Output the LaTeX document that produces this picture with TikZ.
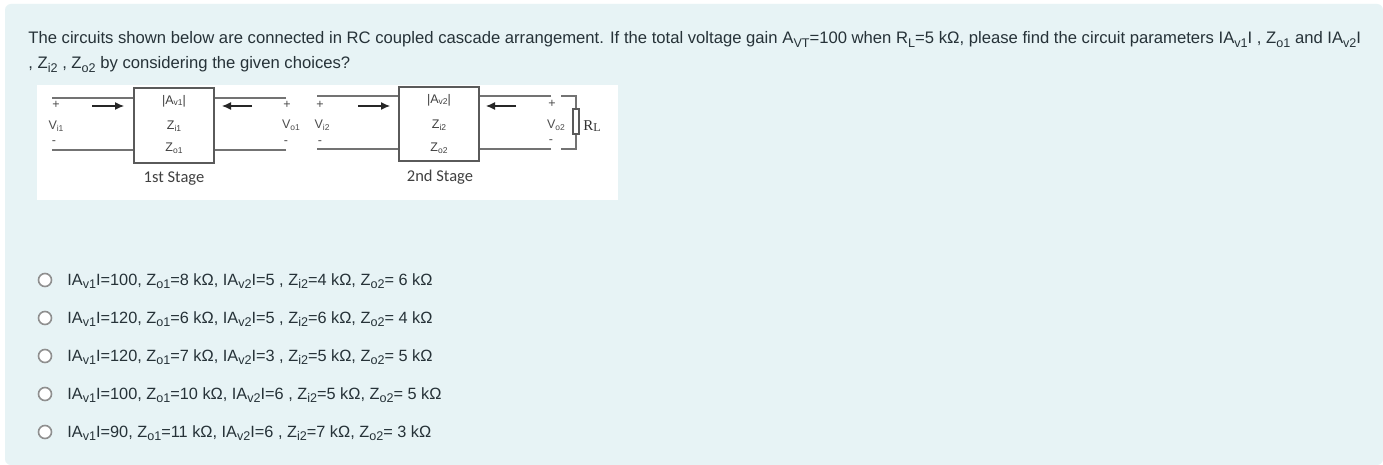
\documentclass[tikz,border=0pt]{standalone}
\usepackage{fontspec}
\usetikzlibrary{arrows.meta}
\setmainfont{Liberation Sans}
\newfontfamily\stagefont{Carlito}
\newfontfamily\loadfont{Liberation Serif}
\definecolor{panelcol}{HTML}{E7F3F5}
\definecolor{inkcol}{HTML}{263238}
\definecolor{wirecol}{HTML}{5A5A5A}
\definecolor{radiocol}{HTML}{8F8F8F}
\newcommand{\lowtxt}[1]{\raisebox{-3.2pt}{\fontsize{12.6}{14}\selectfont #1}}
\newcommand{\portsub}[1]{\raisebox{-1.5pt}{\fontsize{8.5}{10}\selectfont #1}}
\begin{document}
\begin{tikzpicture}[x=1pt, y=-1pt, thick,
    question/.style={anchor=base west, inner sep=0pt, text=inkcol, font=\fontsize{16.65}{18}\selectfont},
    choice/.style={anchor=base west, inner sep=0pt, text=inkcol, font=\fontsize{16.3}{18}\selectfont},
    radiobox/.style={draw=radiocol, fill=white, circle, line width=1.6pt, minimum size=13pt, inner sep=0pt},
    stagebox/.style={draw=wirecol, line width=1.2pt, minimum width=80pt, inner sep=0pt},
    boxlabel/.style={inner sep=0pt, text=black!75, font=\fontsize{12.5}{14}\selectfont},
    portlabel/.style={inner sep=0pt, text=black!70, font=\fontsize{12.5}{14}\selectfont},
    stagelabel/.style={inner sep=0pt, text=black!75, font=\stagefont\fontsize{16.5}{18}\selectfont},
    wire/.style={draw=wirecol!85, line width=1.1pt},
    flow/.style={draw=black!85, line width=1.2pt, -{Latex[length=9pt,width=8pt]}}]
  \useasboundingbox (0,0) rectangle (1383,465);
  \fill[white] (0,0) rectangle (1383,465);
  \fill[panelcol, rounded corners=6pt] (5,4) rectangle (1383,465);
  \fill[white] (37,85) rectangle (618,200);

  % question text
  \node[question] (line1) at (28,44) {The circuits shown below are connected in RC coupled cascade arrangement. If the total voltage gain A\lowtxt{VT}=100 when R\lowtxt{L}=5 k\char"03A9, please find the circuit parameters IA\lowtxt{v1}I , Z\lowtxt{o1} and IA\lowtxt{v2}I};
  \node[question] (line2) at (28,69) {, Z\lowtxt{i2} , Z\lowtxt{o2} by considering the given choices?};

  % the two stages
  \node[stagebox, minimum height=75pt] (stageone) at (174,125.5) {};
  \node[stagebox, minimum height=74pt] (stagetwo) at (439,124) {};

  \node[boxlabel] (avone) at (174,101) {|A\portsub{v1}|};
  \node[boxlabel] (zione) at (174,126) {Z\portsub{i1}};
  \node[boxlabel] (zoone) at (174,148) {Z\portsub{o1}};
  \node[stagelabel] (nameone) at (174,179) {1st Stage};

  \node[boxlabel] (avtwo) at (439,100) {|A\portsub{v2}|};
  \node[boxlabel] (zitwo) at (439,125) {Z\portsub{i2}};
  \node[boxlabel] (zotwo) at (439,148) {Z\portsub{o2}};
  \node[stagelabel] (nametwo) at (440,177) {2nd Stage};

  % free ends of the wires
  \coordinate (inonetop) at (52,98);
  \coordinate (inonebot) at (52,150);
  \coordinate (outonetop) at (286,98);
  \coordinate (outonebot) at (286,150);
  \coordinate (intwotop) at (317,96);
  \coordinate (intwobot) at (317,149);
  \coordinate (outtwotop) at (551,96);
  \coordinate (outtwobot) at (551,149);
  \coordinate (loadtop) at (561,96);
  \coordinate (loadbot) at (561,149);

  \draw[wire] (inonetop) -- (inonetop -| stageone.west);
  \draw[wire] (inonebot) -- (inonebot -| stageone.west);
  \draw[wire] (outonetop) -- (outonetop -| stageone.east);
  \draw[wire] (outonebot) -- (outonebot -| stageone.east);
  \draw[wire] (intwotop) -- (intwotop -| stagetwo.west);
  \draw[wire] (intwobot) -- (intwobot -| stagetwo.west);
  \draw[wire] (outtwotop) -- (outtwotop -| stagetwo.east);
  \draw[wire] (outtwobot) -- (outtwobot -| stagetwo.east);

  % arrows into the ports
  \coordinate (flowa) at (92,106);
  \coordinate (flowb) at (252,106);
  \coordinate (flowc) at (358,106);
  \coordinate (flowd) at (516,106);
  \draw[flow] (flowa) -- (flowa -| 124,0);
  \draw[flow] (flowb) -- (flowb -| 222,0);
  \draw[flow] (flowc) -- (flowc -| 390,0);
  \draw[flow] (flowd) -- (flowd -| 486,0);

  % load
  \node[draw=wirecol, line width=1.1pt, minimum width=6pt, minimum height=25pt, inner sep=0pt] (rload) at (576,121.5) {};
  \node[inner sep=0pt, text=black!80, font=\loadfont\fontsize{15}{17}\selectfont] (rname) at (592,126) {R\raisebox{-1.5pt}{\fontsize{12}{14}\selectfont L}};
  \draw[wire] (loadtop) -- (loadtop -| rload.north) -- (rload.north);
  \draw[wire] (loadbot) -- (loadbot -| rload.south) -- (rload.south);

  % port labels
  \node[portlabel] (vioneplus) at (56,105) {+};
  \node[portlabel] (vione) at (56,126) {V\portsub{i1}};
  \node[portlabel] (vioneminus) at (54,143) {-};
  \node[portlabel] (voneplus) at (287,105) {+};
  \node[portlabel] (vone) at (291,125) {V\portsub{o1}};
  \node[portlabel] (voneminus) at (286,143) {-};
  \node[portlabel] (vitwoplus) at (320,105) {+};
  \node[portlabel] (vitwo) at (322,125) {V\portsub{i2}};
  \node[portlabel] (vitwominus) at (320,143) {-};
  \node[portlabel] (vtwoplus) at (552,104) {+};
  \node[portlabel] (vtwo) at (556,125) {V\portsub{o2}};
  \node[portlabel] (vtwominus) at (551,142) {-};

  % choices
  \node[radiobox] (radioa) at (45,280) {};
  \node[radiobox] (radiob) at (45,318) {};
  \node[radiobox] (radioc) at (45,356) {};
  \node[radiobox] (radiod) at (45,394) {};
  \node[radiobox] (radioe) at (45,432) {};
  \node[choice] (choicea) at (67,285.5) {IA\lowtxt{v1}I=100, Z\lowtxt{o1}=8 k\char"03A9, IA\lowtxt{v2}I=5 , Z\lowtxt{i2}=4 k\char"03A9, Z\lowtxt{o2}= 6 k\char"03A9};
  \node[choice] (choiceb) at (67,323.5) {IA\lowtxt{v1}I=120, Z\lowtxt{o1}=6 k\char"03A9, IA\lowtxt{v2}I=5 , Z\lowtxt{i2}=6 k\char"03A9, Z\lowtxt{o2}= 4 k\char"03A9};
  \node[choice] (choicec) at (67,361.5) {IA\lowtxt{v1}I=120, Z\lowtxt{o1}=7 k\char"03A9, IA\lowtxt{v2}I=3 , Z\lowtxt{i2}=5 k\char"03A9, Z\lowtxt{o2}= 5 k\char"03A9};
  \node[choice] (choiced) at (67,399.5) {IA\lowtxt{v1}I=100, Z\lowtxt{o1}=10 k\char"03A9, IA\lowtxt{v2}I=6 , Z\lowtxt{i2}=5 k\char"03A9, Z\lowtxt{o2}= 5 k\char"03A9};
  \node[choice] (choicee) at (67,437.5) {IA\lowtxt{v1}I=90, Z\lowtxt{o1}=11 k\char"03A9, IA\lowtxt{v2}I=6 , Z\lowtxt{i2}=7 k\char"03A9, Z\lowtxt{o2}= 3 k\char"03A9};
\end{tikzpicture}
\end{document}
